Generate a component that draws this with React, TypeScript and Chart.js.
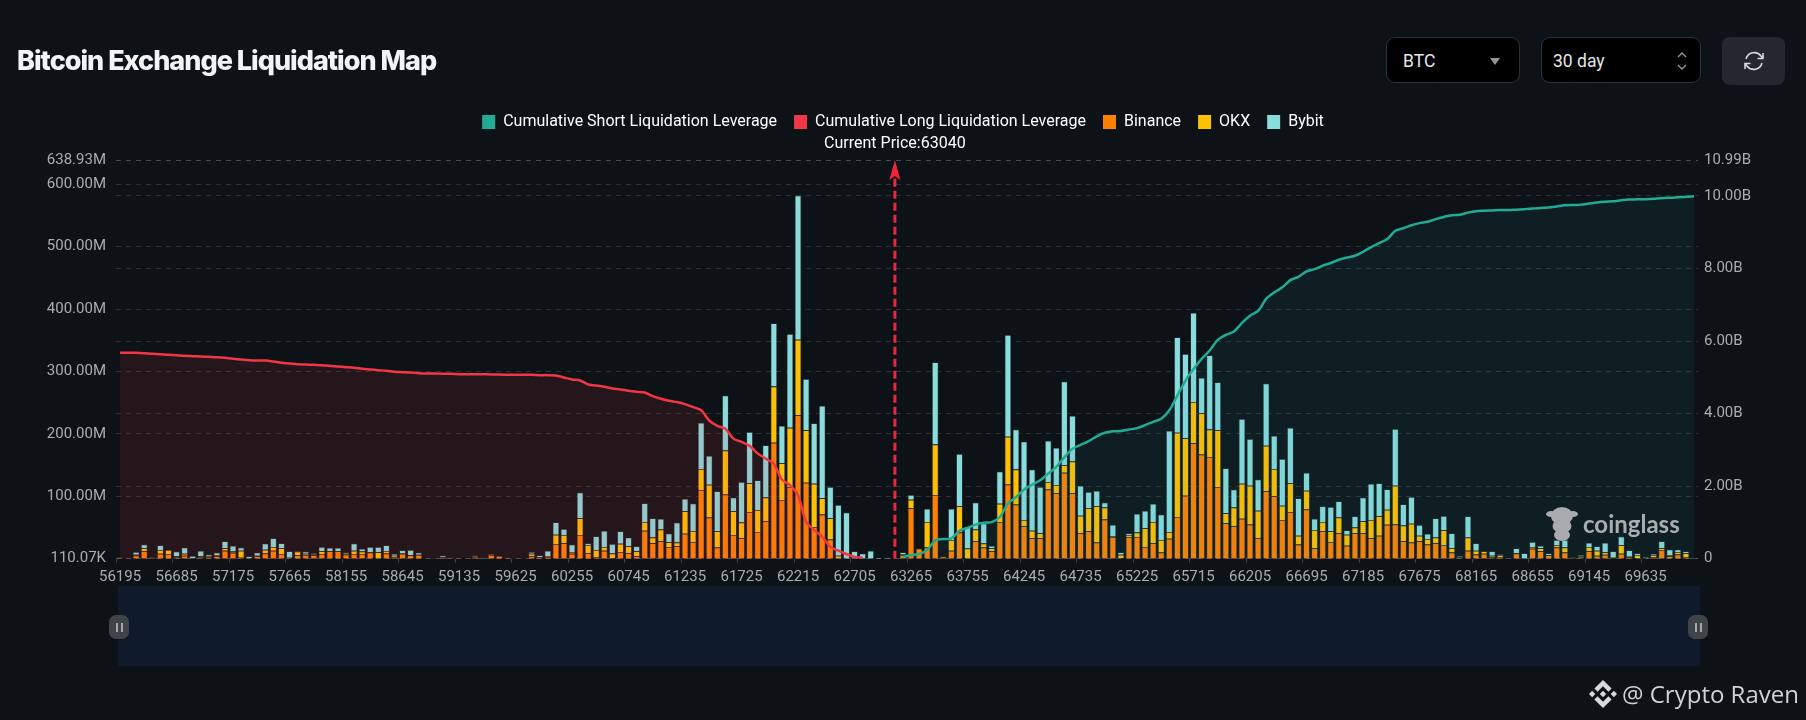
import React, { useEffect, useRef } from 'react';
import { Chart, registerables } from 'chart.js';

Chart.register(...registerables);

const prices = [
  56195, 56265, 56335, 56405, 56475, 56545, 56615, 56685, 56755, 56825, 56895, 56965, 57035, 57105,
  57175, 57245, 57315, 57385, 57455, 57525, 57595, 57665, 57735, 57805, 57875, 57945, 58015, 58085,
  58155, 58225, 58295, 58365, 58435, 58505, 58575, 58645, 58715, 58785, 58855, 58925, 58995, 59065,
  59135, 59205, 59275, 59345, 59415, 59485, 59555, 59625, 59695, 59765, 59835, 59905, 59975, 60115,
  60255, 60325, 60395, 60465, 60535, 60605, 60675, 60745, 60815, 60885, 60955, 61025, 61095, 61165,
  61235, 61305, 61375, 61445, 61515, 61585, 61655, 61725, 61795, 61865, 61935, 62005, 62075, 62145,
  62215, 62285, 62355, 62425, 62495, 62565, 62635, 62705, 62775, 62845, 62915, 62985, 63040, 63125,
  63265, 63335, 63405, 63475, 63545, 63615, 63685, 63755, 63825, 63895, 63965, 64035, 64105, 64175,
  64245, 64315, 64385, 64455, 64525, 64595, 64665, 64735, 64805, 64875, 64945, 65015, 65085, 65155,
  65225, 65295, 65365, 65435, 65505, 65575, 65645, 65715, 65785, 65855, 65925, 65995, 66065, 66135,
  66205, 66275, 66345, 66415, 66485, 66555, 66625, 66695, 66765, 66835, 66905, 66975, 67045, 67115,
  67185, 67255, 67325, 67395, 67465, 67535, 67605, 67675, 67745, 67815, 67885, 67955, 68025, 68095,
  68165, 68235, 68305, 68375, 68445, 68515, 68585, 68655, 68725, 68795, 68865, 68935, 69005, 69075,
  69145, 69215, 69285, 69355, 69425, 69495, 69565, 69635, 69705, 69775, 69845, 69915, 69985, 70055,
];

// millions of USD
const binance = [
  2, 0.2, 5.3, 12, 2, 8, 7.5, 2, 5, 0.3, 2, 2, 4, 13, 9.5, 1.5, 0.5, 4, 8.5, 13,
  7.5, 1, 5.5, 6, 5.5, 7.5, 12, 12, 7, 7.5, 7.5, 10, 0.5, 8.5, 3, 8, 5.5, 6, 0.2, 0,
  2.5, 2, 1, 0.2, 3, 0, 6, 4.3, 1.5, 0.2, 0.2, 4, 2.5, 3, 23.5, 25, 8, 38, 9, 3,
  13, 0.5, 11, 9, 4, 45, 25, 28, 19, 20, 40, 27, 110, 66, 18, 103, 38, 33, 75, 43,
  60, 186, 94, 115, 230, 122, 51, 71, 31, 0.5, 0, 0, 0, 0, 0, 0, 0, 6, 81, 16.5,
  18, 102, 3.5, 13, 42, 0.5, 28, 18, 12, 59, 119, 87, 52, 33, 33, 111, 105, 138, 105, 41,
  44, 26, 63, 35, 1, 35, 35, 19, 25, 10, 32, 67, 101, 185, 167, 163, 115, 57, 52, 64,
  55, 33, 108, 100, 62, 75, 23, 79, 17, 44, 27, 41, 21, 41, 41, 33, 37, 54.5, 55, 28,
  26, 28, 23, 25, 22, 10, 2, 13, 7, 8, 2, 3, 0.2, 8.5, 0, 16, 12, 5.5, 18, 10,
  1.5, 1.5, 12, 5, 6.5, 1, 8, 2.5, 1, 0.3, 3, 14, 4, 7, 3, 0.2,
];

const okx = [
  1, 0.2, 1, 5, 0.5, 6, 6.5, 2, 3, 0, 2, 2.5, 2, 4, 2, 11.5, 0.5, 1, 6, 6,
  9.5, 0.5, 6, 2, 1.5, 4.5, 0.5, 0.5, 1, 5.5, 4, 0.5, 10, 4, 2, 0.5, 0.5, 0.5, 0.1, 0,
  0.3, 0.3, 0.5, 0.1, 0.5, 0, 0.5, 0, 0, 0.1, 0.1, 4, 0.3, 1, 15, 13, 3, 27, 13, 11,
  6, 8, 13, 11, 8, 14, 9, 19, 7.5, 6, 36, 17.5, 34, 52.5, 26, 70.5, 38, 25, 46, 35,
  38, 90, 59, 95, 121, 84, 69, 26, 34, 4.5, 0.1, 0, 0, 0, 0, 0, 0, 1, 13.5, 0,
  41, 81, 0.5, 17, 42, 16, 19, 6.5, 5, 29, 76.5, 56, 10, 12, 8, 12, 13, 12, 51, 28,
  37, 58, 19, 0.5, 5.5, 3, 7, 30, 34, 20, 11, 135, 92, 66, 66, 44, 91, 16, 30, 56,
  62, 44, 73, 44, 23, 46, 14, 30, 29, 15, 17, 25, 17.5, 9, 19, 29, 31, 24, 62, 25.5,
  30, 9, 8.5, 9, 23.5, 7, 1, 21, 6, 4, 3, 3, 0, 0.3, 0, 3, 5, 0.3, 4, 8,
  1, 2, 7, 8, 4, 2, 13.5, 2, 5, 0.2, 3, 3, 2, 4, 6, 0,
];

const bybit = [
  0, 0.6, 4.5, 6, 0.7, 7.5, 0, 7.5, 10, 4, 9, 2.5, 4, 11, 9.5, 5, 3, 5, 10, 14,
  8, 10.5, 1, 3.5, 2, 7, 5, 5, 2.5, 11.5, 4.5, 8.5, 8.5, 9, 3, 5, 8, 3.5, 0.3, 1,
  2.5, 0, 0.2, 0.3, 2, 2, 1, 0, 0, 0.2, 0.2, 3, 3, 9, 20, 9.5, 12, 41, 3, 22,
  26, 15, 20, 14, 8, 30, 31, 17, 14, 32, 20, 44, 74, 46.5, 64, 88, 22, 65, 82, 48,
  84, 101.5, 60, 150, 231, 82, 97, 148, 50, 81, 74, 12, 8.5, 13, 1.5, 1.5, 0, 3.5, 7.5, 0,
  21, 132, 0, 50, 84, 35, 43, 32, 4, 52, 163, 64, 126, 98, 74, 66, 60, 134, 73, 48,
  26, 25, 8, 19, 4, 3, 30, 28, 29, 41, 162, 153, 135, 143, 57, 119, 77, 72, 29, 104,
  75, 50, 100, 53, 75, 89, 60, 29, 18, 25, 39, 26, 7, 18, 38, 58, 53, 33, 91, 34,
  43, 17, 8.5, 31, 23, 24, 1, 34, 12, 1, 7, 1, 0.3, 8, 9, 8, 4, 3, 8, 12,
  0.2, 2.5, 6.5, 7, 15, 9, 14, 9, 3, 2.5, 2, 11, 9, 4, 3, 1.5,
];

// billions of USD, below the current price
const cumulativeLong = [
  5.674, 5.674, 5.674, 5.665, 5.647, 5.637, 5.619, 5.61, 5.591, 5.582, 5.573, 5.564, 5.555, 5.536,
  5.509, 5.491, 5.472, 5.463, 5.463, 5.436, 5.399, 5.381, 5.362, 5.353, 5.344, 5.335, 5.316, 5.298,
  5.28, 5.261, 5.234, 5.216, 5.197, 5.179, 5.151, 5.142, 5.133, 5.115, 5.106, 5.106, 5.097, 5.097,
  5.087, 5.087, 5.087, 5.087, 5.078, 5.078, 5.069, 5.069, 5.069, 5.069, 5.06, 5.06, 5.051, 4.996,
  4.941, 4.913, 4.803, 4.776, 4.739, 4.693, 4.666, 4.629, 4.602, 4.583, 4.482, 4.409, 4.354, 4.317,
  4.262, 4.18, 4.09, 3.81, 3.66, 3.58, 3.31, 3.22, 3.11, 2.9, 2.76, 2.62, 2.18, 2.03,
  1.75, 1.02, 0.79, 0.6, 0.33, 0.22, 0.13, 0.05, 0.03,
];

// billions of USD, above the current price (starts after index 96)
const cumulativeShort = [
  0.04, 0.1, 0.13, 0.24, 0.51, 0.54, 0.56, 0.77, 0.85, 0.94, 0.99, 1.01, 1.15, 1.52, 1.7, 1.91,
  2.04, 2.16, 2.35, 2.53, 2.8, 3.03, 3.14, 3.24, 3.37, 3.47, 3.51, 3.52, 3.56, 3.6, 3.68, 3.77,
  3.86, 4.09, 4.5, 4.91, 5.23, 5.51, 5.74, 6.03, 6.17, 6.26, 6.5, 6.7, 6.83, 7.16, 7.34, 7.48,
  7.68, 7.77, 7.92, 7.98, 8.08, 8.15, 8.24, 8.3, 8.35, 8.46, 8.59, 8.7, 8.81, 9.04, 9.11, 9.19,
  9.25, 9.29, 9.36, 9.42, 9.47, 9.48, 9.54, 9.58, 9.59, 9.6, 9.61, 9.61, 9.62, 9.63, 9.65, 9.67,
  9.68, 9.71, 9.74, 9.75, 9.76, 9.79, 9.82, 9.84, 9.85, 9.88, 9.9, 9.91, 9.91, 9.92, 9.94, 9.95,
  9.96, 9.98, 9.99,
];

const leftTicks = [0.11007, 100, 200, 300, 400, 500, 600, 638.93];
const rightTicks = [0, 2, 4, 6, 8, 10, 10.99];
const currentPrice = '63040';

const BG = '#0c1216';
const FONT = 'Roboto, sans-serif';
const RED = '#f23645';
const TEAL = '#22ab94';
const GRID = 'rgba(255,255,255,0.13)';
const BAR_EDGE = 'rgba(80,88,92,0.5)';

// dashed arrow and caption at the current price
const currentPricePlugin = {
  id: 'currentPrice',
  afterDatasetsDraw(chart: Chart) {
    const { ctx, chartArea, scales } = chart;
    const x = scales.x.getPixelForValue(prices.indexOf(Number(currentPrice)));
    ctx.save();
    ctx.strokeStyle = '#f5233a';
    ctx.fillStyle = '#f5233a';
    ctx.lineWidth = 3;
    ctx.setLineDash([8, 4]);
    ctx.beginPath();
    ctx.moveTo(x, chartArea.bottom);
    ctx.lineTo(x, chartArea.top + 14);
    ctx.stroke();
    ctx.setLineDash([]);
    ctx.beginPath();
    ctx.moveTo(x, chartArea.top);
    ctx.lineTo(x + 5.5, chartArea.top + 20);
    ctx.lineTo(x, chartArea.top + 16);
    ctx.lineTo(x - 5.5, chartArea.top + 20);
    ctx.closePath();
    ctx.fill();
    ctx.fillStyle = '#ffffff';
    ctx.font = '16px ' + FONT;
    ctx.textAlign = 'center';
    ctx.textBaseline = 'middle';
    ctx.fillText('Current Price:' + currentPrice, x, 144);
    ctx.restore();
  },
};

// leave room between the legend and the plot for the caption
const legendSpacerPlugin = {
  id: 'legendSpacer',
  beforeInit(chart: any) {
    const fit = chart.legend.fit;
    chart.legend.fit = function () {
      fit.call(this);
      this.height = 63;
    };
  },
};

const Handle: React.FC<{ left: number }> = ({ left }) => (
  <div style={{ position: 'absolute', left: left - 10, top: 615, width: 20, height: 24, borderRadius: 7, background: '#3f4448', display: 'flex', alignItems: 'center', justifyContent: 'center', gap: 3 }}>
    <div style={{ width: 2, height: 9, background: '#a4a7aa' }} />
    <div style={{ width: 2, height: 9, background: '#a4a7aa' }} />
  </div>
);

const boxStyle: React.CSSProperties = {
  position: 'absolute',
  top: 37,
  height: 46,
  boxSizing: 'border-box',
  background: '#000',
  border: '1px solid #2b3136',
  borderRadius: 9,
  color: '#e4e6e8',
  font: '17.5px ' + FONT,
  lineHeight: '46px',
};

const App: React.FC = () => {
  const canvasRef = useRef<HTMLCanvasElement | null>(null);

  useEffect(() => {
    document.body.style.margin = '0';
    document.body.style.background = BG;
    if (!canvasRef.current) return;

    const chart = new Chart(canvasRef.current, {
      type: 'bar',
      data: {
        labels: prices.map(String),
        datasets: [
          {
            type: 'line',
            label: 'Cumulative Short Liquidation Leverage',
            data: [...Array(97).fill(null), ...cumulativeShort],
            yAxisID: 'y1',
            borderColor: TEAL,
            backgroundColor: 'rgba(60,150,170,0.09)',
            borderWidth: 2.5,
            pointRadius: 0,
            tension: 0.3,
            fill: 'origin',
            order: 1,
          },
          {
            type: 'line',
            label: 'Cumulative Long Liquidation Leverage',
            data: cumulativeLong,
            yAxisID: 'y1',
            borderColor: RED,
            backgroundColor: 'rgba(242,54,69,0.11)',
            borderWidth: 2.5,
            pointRadius: 0,
            tension: 0.3,
            fill: 'origin',
            order: 1,
          },
          { label: 'Binance', data: binance, backgroundColor: '#ff8000', stack: 'ex', yAxisID: 'y', borderColor: BAR_EDGE, borderWidth: 0.75, order: 2 },
          { label: 'OKX', data: okx, backgroundColor: '#ffc000', stack: 'ex', yAxisID: 'y', borderColor: BAR_EDGE, borderWidth: 0.75, order: 2 },
          { label: 'Bybit', data: bybit, backgroundColor: '#88dcdc', stack: 'ex', yAxisID: 'y', borderColor: BAR_EDGE, borderWidth: 0.75, order: 2 },
        ],
      } as any,
      options: {
        animation: false,
        responsive: false,
        layout: { padding: { top: 97, left: 0, right: 0, bottom: 0 } },
        datasets: { bar: { barPercentage: 0.82, categoryPercentage: 1 } },
        plugins: {
          tooltip: { enabled: false },
          legend: {
            position: 'top',
            labels: {
              color: '#ffffff',
              font: { family: FONT, size: 16 },
              boxWidth: 13,
              boxHeight: 14,
              padding: 17,
              sort: (a: any, b: any) => a.datasetIndex - b.datasetIndex,
              generateLabels: (c: Chart) =>
                Chart.defaults.plugins.legend.labels.generateLabels(c).map((item: any) => ({
                  ...item,
                  fillStyle: item.datasetIndex < 2 ? item.strokeStyle : c.data.datasets[item.datasetIndex].backgroundColor,
                  lineWidth: 0,
                })),
            },
          },
        },
        scales: {
          x: {
            stacked: true,
            border: { display: false },
            grid: {
              offset: true,
              drawOnChartArea: false,
              tickLength: 4,
              color: (ctx: any) => (ctx.index % 7 === 0 ? '#3a4045' : 'transparent'),
            },
            ticks: {
              autoSkip: false,
              maxRotation: 0,
              padding: 6,
              color: '#a9adb0',
              font: { family: FONT, size: 15 },
              callback(this: any, value: any, index: number) {
                return index % 7 === 0 ? this.getLabelForValue(value) : '';
              },
            },
            afterFit: (scale: any) => {
              scale.height = 161.3;
            },
          },
          y: {
            stacked: true,
            position: 'left',
            min: leftTicks[0],
            max: 638.93,
            border: { display: false, dash: [5, 5] },
            grid: { color: GRID, tickLength: 0 },
            afterBuildTicks: (scale: any) => {
              scale.ticks = leftTicks.map((value) => ({ value }));
            },
            ticks: {
              autoSkip: false,
              padding: 10,
              color: '#a9adb0',
              font: { family: FONT, size: 15 },
              callback: (value: any) => (value < 1 ? '110.07K' : Number(value).toFixed(2) + 'M'),
            },
            afterFit: (scale: any) => {
              scale.width = 116;
            },
          },
          y1: {
            position: 'right',
            min: 0,
            max: 10.99,
            border: { display: false, dash: [5, 5] },
            grid: { color: GRID, tickLength: 0 },
            afterBuildTicks: (scale: any) => {
              scale.ticks = rightTicks.map((value) => ({ value }));
            },
            ticks: {
              autoSkip: false,
              padding: 6,
              color: '#a9adb0',
              font: { family: FONT, size: 15 },
              callback: (value: any) => (value === 0 ? '0' : Number(value).toFixed(2) + 'B'),
            },
            afterFit: (scale: any) => {
              scale.width = 108;
            },
          },
        },
      } as any,
      plugins: [currentPricePlugin, legendSpacerPlugin],
    });

    return () => {
      chart.destroy();
    };
  }, []);

  return (
    <div style={{ position: 'relative', width: 1806, height: 720, background: BG, overflow: 'hidden' }}>
      <div style={{ position: 'absolute', left: 118, top: 586, width: 1582, height: 80, background: '#0f1a2b' }} />
      <Handle left={119} />
      <Handle left={1698} />
      <canvas ref={canvasRef} width={1806} height={720} style={{ position: 'absolute', left: 0, top: 0, width: 1806, height: 720 }} />

      <div style={{ position: 'absolute', left: 17, top: 42, font: '800 27px Inter, sans-serif', lineHeight: '38px', color: '#f2f4f6', letterSpacing: -1 }}>
        Bitcoin Exchange Liquidation Map
      </div>

      <div style={{ ...boxStyle, left: 1386, width: 134, paddingLeft: 16 }}>
        BTC
        <svg width="10" height="7" style={{ position: 'absolute', left: 103, top: 20 }}>
          <path d="M0 0 L10 0 L5 7 Z" fill="#94979a" />
        </svg>
      </div>
      <div style={{ ...boxStyle, left: 1541, width: 160, paddingLeft: 11 }}>
        30 day
        <svg width="10" height="20" style={{ position: 'absolute', left: 135, top: 13 }}>
          <path d="M1 6 L5 2 L9 6 M1 14 L5 18 L9 14" fill="none" stroke="#94979a" strokeWidth="1.4" />
        </svg>
      </div>
      <div style={{ position: 'absolute', left: 1722, top: 37, width: 63, height: 48, borderRadius: 8, background: '#22282d' }}>
        <svg width="24" height="24" viewBox="0 0 24 24" style={{ position: 'absolute', left: 20, top: 12 }}>
          <path d="M4 10 A8.5 8.5 0 0 1 19 7 L21 9.5 M21 4 L21 9.5 L15.5 9.5 M20 14 A8.5 8.5 0 0 1 5 17 L3 14.5 M3 20 L3 14.5 L8.5 14.5" fill="none" stroke="#d6d8da" strokeWidth="1.6" />
        </svg>
      </div>

      <svg width="32" height="36" viewBox="0 0 32 36" style={{ position: 'absolute', left: 1546, top: 506 }}>
        <g fill="#a9abad">
          <ellipse cx="16" cy="10" rx="11" ry="9" />
          <ellipse cx="5" cy="8" rx="5" ry="3" />
          <ellipse cx="27" cy="8" rx="5" ry="3" />
          <ellipse cx="16" cy="20" rx="9.5" ry="7" />
          <ellipse cx="16" cy="29" rx="8" ry="6" />
        </g>
      </svg>
      <div style={{ position: 'absolute', left: 1583, top: 508, font: '700 24px Lato, sans-serif', lineHeight: '32px', color: '#a9adb0' }}>coinglass</div>

      <svg width="28" height="28" viewBox="0 0 126.61 126.61" style={{ position: 'absolute', left: 1589, top: 680 }}>
        <path fill="#d8d9da" d="M38.73 53.2l24.59-24.58 24.6 24.6 14.3-14.31L63.32 0 24.42 38.9l14.31 14.3zM0 63.31L14.3 49l14.31 14.31-14.31 14.3L0 63.31zm38.73 10.1l24.59 24.59 24.6-24.6 14.31 14.29-.01.01-38.9 38.91-38.9-38.88-.01-.02 14.32-14.3zm59.57-10.1L112.61 49l14.31 14.3-14.31 14.32-14.31-14.31zM77.83 63.3L63.32 48.78 52.59 59.51l-1.24 1.23-2.54 2.54 14.51 14.5 14.51-14.47z" />
      </svg>
      <div style={{ position: 'absolute', left: 1622, top: 676, font: '24px "Open Sans", sans-serif', lineHeight: '36px', color: '#d0d2d4', whiteSpace: 'nowrap' }}>@ Crypto Raven</div>
    </div>
  );
};

export default App;
